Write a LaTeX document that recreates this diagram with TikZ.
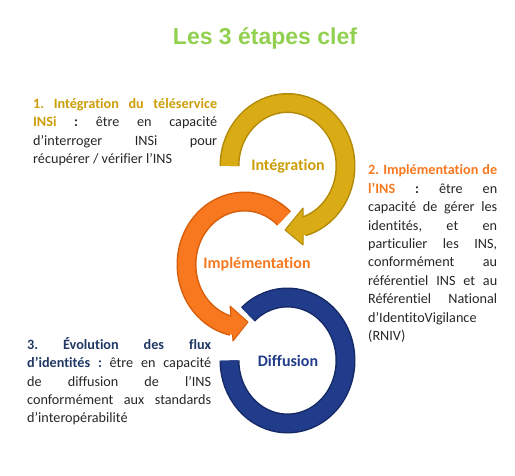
\documentclass[tikz,border=0pt]{standalone}
\usepackage{fontspec}
\setmainfont{Carlito}[Ligatures=NoCommon]
\newfontfamily\titlefont{Liberation Sans}
\definecolor{gold}{HTML}{D9AB15}
\definecolor{golddark}{HTML}{B38A08}
\definecolor{goldtext}{HTML}{CC9E0A}
\definecolor{orangering}{HTML}{F7781E}
\definecolor{orangedark}{HTML}{D85E0C}
\definecolor{navy}{HTML}{213C8A}
\definecolor{navydark}{HTML}{152A66}
\definecolor{navytext}{HTML}{203864}
\definecolor{titlegreen}{HTML}{92D050}
\definecolor{bodytext}{HTML}{262626}
\frenchspacing
\hyphenpenalty=10000
\exhyphenpenalty=10000
\tikzset{
  ring/.style={line width=20pt, line cap=butt},
  ringcore/.style={line width=17pt, line cap=butt},
  ringlabel/.style={font=\bfseries\fontsize{16}{19}\selectfont, inner sep=0},
  desc/.style={anchor=base west, inner sep=0, font=\fontsize{14.2}{18.4}\selectfont, text=bodytext},
}
\begin{document}
\begin{tikzpicture}[x=1pt,y=1pt]
\useasboundingbox (0,0) rectangle (515,475);
% title
\node[font=\titlefont\bfseries\fontsize{23}{28}\selectfont, text=titlegreen, anchor=base] (title) at (265,430) {Les 3 étapes clef};
% blue ring
\draw[ring, navydark] (247.94,160.58) arc[start angle=133, end angle=-180, x radius=58, y radius=63];
\draw[ringcore, navy] (247.94,160.58) arc[start angle=133, end angle=-180, x radius=58, y radius=63];
% orange ring
\draw[ring, orangedark] (284.06,256.58) arc[start angle=47, end angle=258, x radius=58, y radius=63];
\filldraw[fill=orangering, draw=orangedark, line width=1pt, line join=round] (230,169) -- (248,153) -- (233,134) -- cycle;
\draw[ringcore, orangering] (284.06,256.58) arc[start angle=47, end angle=260, x radius=58, y radius=63];
% yellow ring
\draw[ring, golddark] (229.5,309) arc[start angle=180, end angle=-75, x radius=58, y radius=63];
\filldraw[fill=gold, draw=golddark, line width=1pt, line join=round] (303,267) -- (285,245) -- (303,230) -- cycle;
\draw[ringcore, gold] (229.5,309) arc[start angle=180, end angle=-77, x radius=58, y radius=63];
% ring labels
\node[ringlabel, text=goldtext] (lint) at (288,309) {Intégration};
\node[ringlabel, text=orangering] (limp) at (257,211) {Implémentation};
\node[ringlabel, text=navy] (ldif) at (288,114) {Diffusion};
% descriptions
\node[desc] (t1) at (33,366.7) {\parbox[t]{184pt}{\textcolor{goldtext}{\bfseries 1. Intégration du téléservice\linebreak INSi} \textbf{:} être en capacité\linebreak d’interroger INSi pour\linebreak récupérer / vérifier l’INS}};
\node[desc] (t2) at (368,300) {\parbox[t]{129pt}{\textcolor{orangering}{\bfseries 2. Implémentation de\linebreak l’INS} \textbf{:} être en\linebreak capacité de gérer les\linebreak identités, et en\linebreak particulier les INS,\linebreak conformément au\linebreak référentiel INS et au\linebreak Référentiel National\linebreak d’IdentitoVigilance\linebreak (RNIV)}};
\node[desc] (t3) at (27,125.7) {\parbox[t]{184pt}{\textcolor{navytext}{\bfseries 3. Évolution des flux\linebreak d’identités :} être en capacité\linebreak de diffusion de l’INS\linebreak conformément aux standards\linebreak d’interopérabilité}};
\end{tikzpicture}
\end{document}
